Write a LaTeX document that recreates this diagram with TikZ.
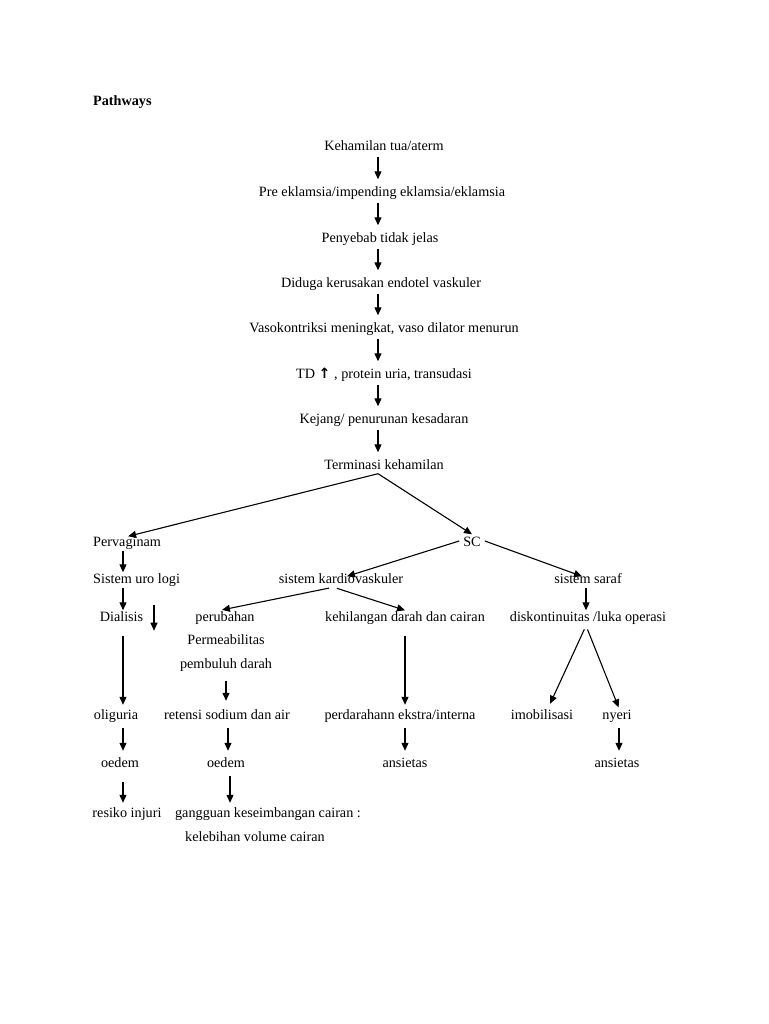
\documentclass[tikz,border=0pt]{standalone}
\usepackage{fontspec}
\setmainfont{Liberation Serif}
\newfontfamily\symfont{DejaVu Sans}
\usepackage{tikz}
\usetikzlibrary{arrows.meta}

\begin{document}
\begin{tikzpicture}[x=1pt, y=-1pt,
		every node/.style={font=\fontsize{14.2}{17}\selectfont, inner sep=1pt, text height=10pt, text depth=3pt},
		arr/.style={-{Triangle[length=8pt,width=7pt]}, line width=1.1pt},
		down/.style={arr, shorten <=2.5pt, shorten >=6pt}]
		\useasboundingbox (0,0) rectangle (768,1024);

		\node[anchor=west] (path) at (92,102) {\textbf{Pathways}};

		% main chain
		\node (keh) at (384,147) {Kehamilan tua/aterm};
		\node (pre) at (382,193) {Pre eklamsia/impending eklamsia/eklamsia};
		\node (peny) at (380,239) {Penyebab tidak jelas};
		\node (diduga) at (381,284) {Diduga kerusakan endotel vaskuler};
		\node (vaso) at (384,329) {Vasokontriksi meningkat, vaso dilator menurun};
		\node (td) at (384,375) {TD {\symfont\bfseries ↑} , protein uria, transudasi};
		\node (kej) at (384,420) {Kejang/ penurunan kesadaran};
		\node (term) at (384,466) {Terminasi kehamilan};

		\draw[down] (378,0 |- keh.south) -- (378,0 |- pre.north);
		\draw[down] (378,0 |- pre.south) -- (378,0 |- peny.north);
		\draw[down] (378,0 |- peny.south) -- (378,0 |- diduga.north);
		\draw[down] (378,0 |- diduga.south) -- (378,0 |- vaso.north);
		\draw[down] (378,0 |- vaso.south) -- (378,0 |- td.north);
		\draw[down] (378,0 |- td.south) -- (378,0 |- kej.north);
		\draw[down] (378,0 |- kej.south) -- (378,0 |- term.north);

		% branches
		\node[anchor=west] (perv) at (92,543) {Pervaginam};
		\node (sc) at (472,543) {SC};
		\draw[arr] (378,0 |- term.south) -- ([xshift=1,yshift=-1]perv.north);
		\draw[arr] (378,0 |- term.south) -- ([yshift=1]sc.north);

		\node[anchor=west] (uro) at (92,580) {Sistem uro logi};
		\node (kardio) at (341,580) {sistem kardiovaskuler};
		\node (saraf) at (588,580) {sistem saraf};
		\draw[arr] (123,0 |- perv.south) -- (123,0 |- uro.north);
		\draw[arr] ([xshift=-3,yshift=2]sc.west) -- ([xshift=6,yshift=-4]kardio.north);
		\draw[arr] ([xshift=3,yshift=2]sc.east) -- ([xshift=-6,yshift=-4]saraf.north);

		\node (dial) at (121.5,618) {Dialisis};
		\node (perub) at (225,618) {perubahan};
		\node (perm) at (226,641) {Permeabilitas};
		\node (pemb) at (226,665) {pembuluh darah};
		\node (hilang) at (405,618) {kehilangan darah dan cairan};
		\node (disk) at (588,618) {diskontinuitas /luka operasi};
		\draw[arr] (123,0 |- uro.south) -- (123,0 |- dial.north);
		\draw[arr, shorten <=-5pt, shorten >=-5pt] (154,0 |- dial.north) -- (154,0 |- dial.south);
		\draw[arr, shorten <=2pt, shorten >=2pt] ([xshift=-10]kardio.south) -- ([xshift=-5]perub.north);
		\draw[arr, shorten <=2pt] ([xshift=-6]kardio.south) -- (hilang.north);
		\draw[arr] (586,0 |- saraf.south) -- (586,0 |- disk.north);

		\node (olig) at (116,716) {oliguria};
		\node (retensi) at (227,716) {retensi sodium dan air};
		\node (perdar) at (400,716) {perdarahann ekstra/interna};
		\node (imob) at (542,716) {imobilisasi};
		\node (nyeri) at (617,716) {nyeri};
		\draw[arr, shorten <=10.5pt, shorten >=3.5pt] (123,0 |- dial.south) -- (123,0 |- olig.north);
		\draw[arr, shorten <=8.5pt, shorten >=7.5pt] (226,0 |- pemb.south) -- (226,0 |- retensi.north);
		\draw[arr, shorten <=10.5pt, shorten >=3.5pt] (405,0 |- hilang.south) -- (405,0 |- perdar.north);
		\draw[arr, shorten <=4pt, shorten >=5pt] ([xshift=-2]disk.south) -- ([xshift=6]imob.north);
		\draw[arr, shorten <=4pt, shorten >=1pt] ([xshift=-2]disk.south) -- ([xshift=2]nyeri.north);

		\node (oedemA) at (120,764) {oedem};
		\node (oedemB) at (226,764) {oedem};
		\node (ansA) at (405,764) {ansietas};
		\node (ansB) at (617,764) {ansietas};
		\draw[arr, shorten <=4.5pt, shorten >=5.5pt] (123,0 |- olig.south) -- (123,0 |- oedemA.north);
		\draw[arr, shorten <=4.5pt, shorten >=5.5pt] (228,0 |- retensi.south) -- (228,0 |- oedemB.north);
		\draw[arr, shorten <=4.5pt, shorten >=5.5pt] (405,0 |- perdar.south) -- (405,0 |- ansA.north);
		\draw[arr, shorten <=4.5pt, shorten >=5.5pt] (619,0 |- nyeri.south) -- (619,0 |- ansB.north);

		\node (resiko) at (127,814) {resiko injuri};
		\node (gangg) at (268,814) {gangguan keseimbangan cairan :};
		\node (lebih) at (255,838) {kelebihan volume cairan};
		\draw[arr, shorten <=10.5pt, shorten >=3.5pt] (123,0 |- oedemA.south) -- (123,0 |- resiko.north);
		\draw[arr, shorten <=4.5pt, shorten >=3.5pt] (230,0 |- oedemB.south) -- (230,0 |- gangg.north);

	\end{tikzpicture}
\end{document}
